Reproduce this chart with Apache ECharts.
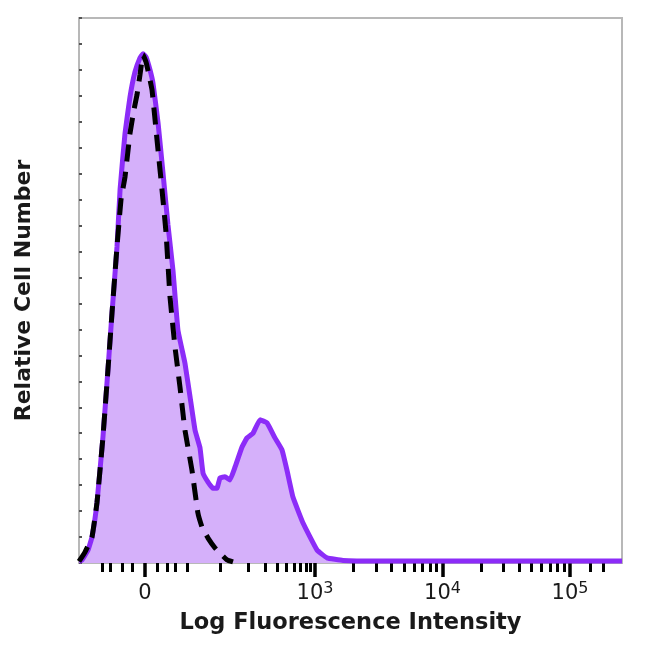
<!DOCTYPE html>
<html>
<head>
<meta charset="utf-8">
<script src="https://cdn.jsdelivr.net/npm/echarts@6/dist/echarts.min.js"></script>
<style>
  html, body { margin: 0; padding: 0; background: #fff; }
  #chart { width: 650px; height: 650px; }
</style>
</head>
<body>
<div id="chart"></div>
<script>
// X values are in logicle display units (decades: 3 = 10^3, 4 = 10^4, 5 = 10^5; "0" sits at 1.667)
const xMin = 1.149;
const xMax = 5.408;

// Stained sample (purple filled histogram)
const stainedX = [1.149, 1.173, 1.220, 1.251, 1.290, 1.337, 1.376, 1.408, 1.447, 1.471, 1.510, 1.549, 1.588, 1.627, 1.651, 1.675, 1.706, 1.729, 1.769, 1.808, 1.847, 1.886, 1.925, 1.980, 2.020, 2.059, 2.098, 2.122, 2.161, 2.200, 2.231, 2.255, 2.294, 2.333, 2.373, 2.427, 2.467, 2.514, 2.569, 2.624, 2.686, 2.741, 2.780, 2.827, 2.906, 3.016, 3.094, 3.220, 3.510, 4.059, 4.608, 5.408];
const stainedY = [0.3, 0.6, 2.5, 5.0, 11.6, 24.3, 37.2, 48.2, 60.9, 71.9, 82.8, 89.8, 94.6, 97.3, 98.1, 97.5, 95.0, 92.5, 84.8, 75.1, 65.1, 56.4, 44.9, 38.5, 32.0, 25.6, 22.2, 17.3, 15.6, 14.4, 14.4, 16.4, 16.6, 16.0, 18.5, 22.3, 24.1, 25.0, 27.6, 27.0, 24.1, 21.8, 17.9, 12.7, 7.7, 2.5, 1.0, 0.5, 0.4, 0.4, 0.4, 0.4];

// Isotype control (black dashed histogram)
const controlX = [1.149, 1.196, 1.251, 1.290, 1.337, 1.376, 1.408, 1.447, 1.478, 1.510, 1.549, 1.580, 1.604, 1.627, 1.651, 1.675, 1.698, 1.722, 1.761, 1.800, 1.831, 1.863, 1.902, 1.941, 1.980, 2.035, 2.082, 2.114, 2.161, 2.216, 2.255, 2.310, 2.357];
const controlY = [0.3, 2.1, 5.0, 11.6, 24.3, 37.2, 48.2, 60.9, 69.9, 74.4, 82.8, 87.3, 90.2, 94.0, 97.9, 96.5, 94.0, 91.1, 81.5, 71.9, 63.8, 51.2, 41.6, 33.9, 25.6, 17.9, 9.6, 6.9, 4.8, 2.9, 1.9, 0.6, 0.2];

// Axis ticks
const majorTicks = [1.667, 3, 4, 5];
const tickBase = ['0', '10', '10', '10'];
const tickExp = ['', '3', '4', '5'];
const minorTicks = [1.329, 1.392, 1.486, 1.565, 1.761, 1.839, 1.902, 1.996, 2.255,
  2.479, 2.610, 2.704, 2.776, 2.835, 2.885, 2.928, 2.966,
  3.301, 3.477, 3.602, 3.699, 3.778, 3.845, 3.903, 3.954,
  4.301, 4.477, 4.602, 4.699, 4.778, 4.845, 4.903, 4.954,
  5.157, 5.259];
const yMax = 105;
const yInterval = 5;

const xTitle = 'Log Fluorescence Intensity';
const yTitle = 'Relative Cell Number';

const font = 'DejaVu Sans';
const zip = (xs, ys) => xs.map((x, i) => [x, ys[i]]);

function labelFor(v) {
  let best = 0;
  for (let i = 0; i < majorTicks.length; i++) {
    if (Math.abs(majorTicks[i] - v) < Math.abs(majorTicks[best] - v)) best = i;
  }
  return tickExp[best] ? '{b|' + tickBase[best] + '}{s|' + tickExp[best] + '}' : '{b|' + tickBase[best] + '}';
}

const chart = echarts.init(document.getElementById('chart'), null, { renderer: 'canvas' });
chart.setOption({
  animation: false,
  backgroundColor: '#ffffff',
  grid: {
    left: 79, right: 28, top: 18, bottom: 87,
    show: true, borderColor: '#b8b8b8', borderWidth: 2, backgroundColor: 'transparent'
  },
  xAxis: [
    {
      // major ticks, labels and title
      type: 'value', min: xMin, max: xMax, gridIndex: 0, position: 'bottom',
      axisLine: { show: false },
      splitLine: { show: false },
      axisTick: { show: true, inside: false, length: 14, customValues: majorTicks,
        lineStyle: { color: '#000', width: 3.5 } },
      axisLabel: {
        show: true, customValues: majorTicks, margin: 18,
        formatter: labelFor,
        rich: {
          b: { fontFamily: font, fontSize: 21, color: '#1a1a1a', lineHeight: 26 },
          s: { fontFamily: font, fontSize: 16, color: '#1a1a1a', lineHeight: 26, padding: [0, 0, 10, 0] }
        }
      },
      name: xTitle, nameLocation: 'middle', nameGap: 48,
      nameTextStyle: { fontFamily: font, fontSize: 22.5, fontWeight: 'bold', color: '#1a1a1a' }
    },
    {
      // minor ticks
      type: 'value', min: xMin, max: xMax, gridIndex: 0, position: 'bottom',
      axisLine: { show: false },
      splitLine: { show: false },
      axisLabel: { show: false },
      axisTick: { show: true, inside: false, length: 9, customValues: minorTicks,
        lineStyle: { color: '#000', width: 3 } }
    }
  ],
  yAxis: {
    type: 'value', min: 0, max: yMax, interval: yInterval,
    axisLine: { show: false },
    splitLine: { show: false },
    axisLabel: { show: false },
    axisTick: { show: true, inside: true, length: 3, lineStyle: { color: '#555', width: 2 } },
    name: yTitle, nameLocation: 'middle', nameGap: 44,
    nameTextStyle: { fontFamily: font, fontSize: 22, fontWeight: 'bold', color: '#1a1a1a' }
  },
  series: [
    {
      type: 'line', xAxisIndex: 0, data: zip(stainedX, stainedY),
      showSymbol: false, smooth: 0.1,
      lineStyle: { color: '#8c2cf8', width: 5 },
      areaStyle: { color: '#d5b0fa', opacity: 1 },
      z: 2
    },
    {
      type: 'line', xAxisIndex: 0, data: zip(controlX, controlY),
      showSymbol: false, smooth: 0.1,
      lineStyle: { color: '#000', width: 5, type: [17, 10], cap: 'butt' },
      z: 3
    }
  ]
});
</script>
</body>
</html>
